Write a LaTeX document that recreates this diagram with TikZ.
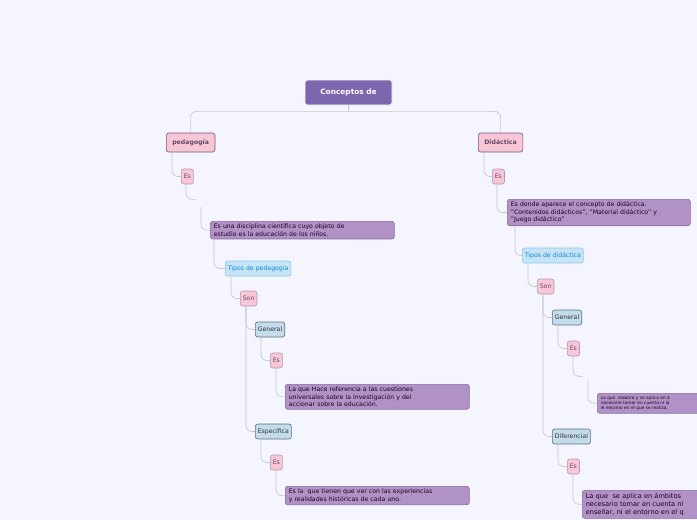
\documentclass[tikz,border=0pt]{standalone}
\usepackage{fontspec}
\setmainfont{DejaVu Sans}
\definecolor{rootc}{HTML}{7C66AE}
\definecolor{pinkc}{HTML}{F9C6D6}
\definecolor{purc}{HTML}{B092C6}
\definecolor{purd}{HTML}{8A6A9E}
\definecolor{tipc}{HTML}{C6E4F8}
\definecolor{tipd}{HTML}{8CC8EE}
\definecolor{catc}{HTML}{C3DCEA}
\definecolor{catd}{HTML}{5E7080}
\definecolor{bgc}{HTML}{F4F5FE}
\begin{document}
\begin{tikzpicture}[x=1pt,y=-1pt,
 base/.style={rounded corners=2.5pt,font=\fontsize{6.2}{7.6}\selectfont,inner sep=2.5pt,line width=0.6pt,anchor=west},
 rootbox/.style={base,anchor=center,fill=rootc,draw=white,text=white,font=\fontsize{7.4}{8}\selectfont\bfseries,minimum width=87pt,minimum height=25pt},
 mainbox/.style={base,fill=pinkc,draw=purd!80!black,text=purd!70!black,font=\fontsize{6.2}{7}\selectfont\bfseries,minimum height=19pt,inner xsep=6pt},
 esbox/.style={base,fill=pinkc,draw=purd!70,text=purd!70!black,minimum height=15pt},
 txtbox/.style={base,fill=purc,draw=purd,text=black!75!violet,anchor=north west,align=left,inner xsep=3.5pt},
 tipobox/.style={base,fill=tipc,draw=tipd,text=cyan!70!blue,minimum height=15pt},
 catbox/.style={base,fill=catc,draw=catd,text=black!80,minimum height=15pt},
 link/.style={draw=gray!45,line width=0.6pt,rounded corners=6pt}]
\fill[bgc] (0,0) rectangle (697,520);
\useasboundingbox (0,0) rectangle (697,520);
\clip (0,0) rectangle (697,520);
\node[rootbox] (root) at (348.5,92.5) {Conceptos de};
\node[mainbox] (ped) at (166,142.5) {pedagogía};
\node[mainbox] (did) at (478,142.5) {Didáctica};
\draw[link] (root.south) -- ++(0,6) coordinate (rj);
\draw[link] (rj) -| (ped.north);
\draw[link] (rj) -| (did.north);
% left
\node[esbox] (es1) at (181,176.5) {Es};
\node[txtbox,text width=177pt] (t1) at (210,221) {Es una disciplina científica cuyo objeto de\\estudio es la educación de los niños.};
\node[tipobox] (tp) at (225,268.5) {Tipos de pedagogía};
\node[esbox] (son1) at (240,298.5) {Son};
\node[catbox] (gen1) at (255,329.5) {General};
\node[esbox] (es2) at (270,360.5) {Es};
\node[txtbox,text width=177pt] (t2) at (285,384) {La que Hace referencia a las cuestiones\\universales sobre la investigación y del\\accionar sobre la educación.};
\node[catbox] (esp) at (255,431.5) {Específica};
\node[esbox] (es3) at (270,462.5) {Es};
\node[txtbox,text width=177pt] (t3) at (285,486) {Es la\ \ que tienen que ver con las experiencias\\y realidades históricas de cada uno.};
\draw[link] ([xshift=6pt]ped.south west) |- (es1.west);
\draw[link] ([xshift=5pt]es1.south west) |- ++(10,15);
\draw[link] (201,207) |- (t1.west);
\draw[link] ([xshift=4pt]t1.south west) |- (tp.west);
\draw[link] ([xshift=6pt]tp.south west) |- (son1.west);
\draw[link] ([xshift=6pt]son1.south west) |- (gen1.west);
\draw[link] ([xshift=6pt]son1.south west) |- (esp.west);
\draw[link] ([xshift=6pt]gen1.south west) |- (es2.west);
\draw[link] ([xshift=6pt]es2.south west) |- (t2.west);
\draw[link] ([xshift=6pt]esp.south west) |- (es3.west);
\draw[link] ([xshift=6pt]es3.south west) |- (t3.west);
% right
\node[esbox] (es4) at (492,176.5) {Es};
\node[txtbox,text width=176pt] (t4) at (507,199) {Es donde aparece el concepto de didáctica.\\"Contenidos didácticos", "Material didáctico" y\\"Juego didáctico"};
\node[tipobox] (td) at (522,255.5) {Tipos de didáctica};
\node[esbox] (son2) at (537,286.5) {Son};
\node[catbox] (gen2) at (552,317.5) {General};
\node[esbox] (es5) at (567,348.5) {Es};
\node[txtbox,font=\fontsize{4.3}{5.3}\selectfont,text width=113pt] (t5) at (597,393) {La que\ \ elabora y se aplica en á\\necesario tomar en cuenta ni la\\el entorno en el que se realiza.};
\node[catbox] (dif) at (552,436.5) {Diferencial};
\node[esbox] (es6) at (567,466.5) {Es};
\node[txtbox,font=\fontsize{6.6}{8.2}\selectfont,text width=123pt] (t6) at (582,490) {La que\ \ se aplica en ámbitos\\necesario tomar en cuenta ni\\enseñar, ni el entorno en el q};
\draw[link] ([xshift=6pt]did.south west) |- (es4.west);
\draw[link] ([xshift=5pt]es4.south west) |- (t4.west);
\draw[link] ([xshift=8pt]t4.south west) |- (td.west);
\draw[link] ([xshift=6pt]td.south west) |- (son2.west);
\draw[link] ([xshift=6pt]son2.south west) |- (gen2.west);
\draw[link] ([xshift=6pt]son2.south west) |- (dif.west);
\draw[link] ([xshift=6pt]gen2.south west) |- (es5.west);
\draw[link] ([xshift=6pt]es5.south west) |- ++(10,20);
\draw[link] (588,380) |- (t5.west);
\draw[link] ([xshift=6pt]dif.south west) |- (es6.west);
\draw[link] ([xshift=6pt]es6.south west) |- (t6.west);
\end{tikzpicture}
\end{document}
